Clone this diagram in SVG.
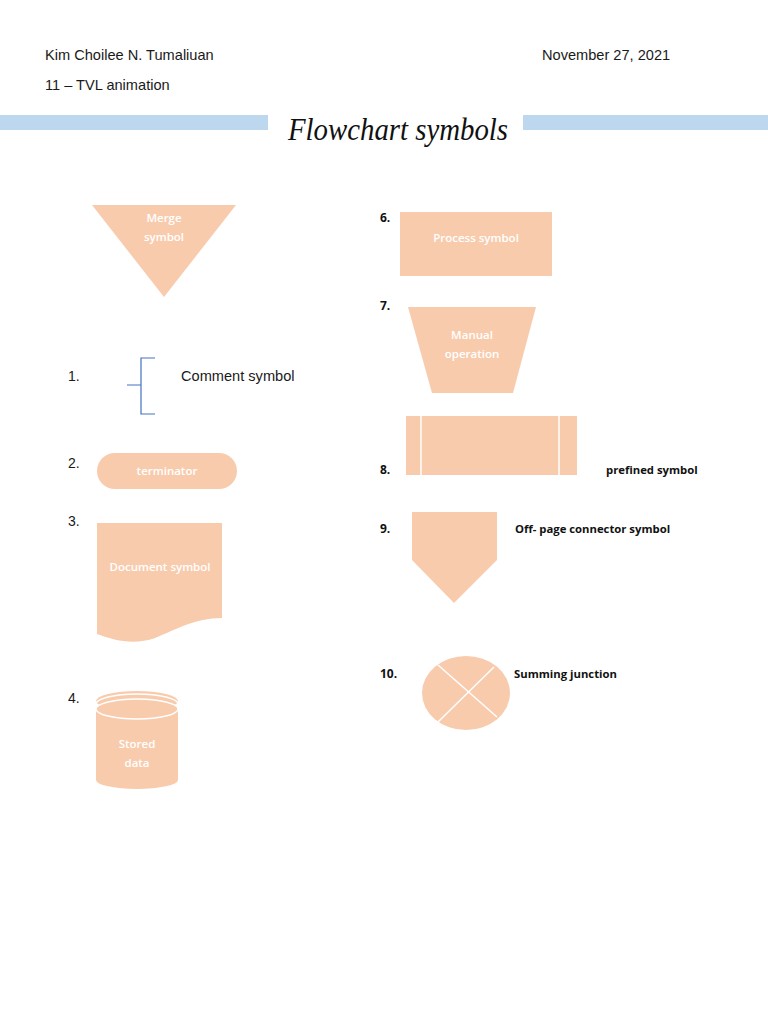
<svg xmlns="http://www.w3.org/2000/svg" width="768" height="1024" viewBox="0 0 768 1024">
<style>
.hdr{font-family:"Liberation Sans",Arial,sans-serif;font-size:14.6px;fill:#1a1a1a}
.num{font-family:"Liberation Sans",Arial,sans-serif;font-size:14px;fill:#1a1a1a}
.bnum{font-family:"Open Sans","Liberation Sans",sans-serif;font-size:12px;font-weight:bold;fill:#111}
.lbl{font-family:"Open Sans","Liberation Sans",sans-serif;font-size:11.3px;font-weight:bold;fill:#111}
.inb{font-family:"Open Sans","Liberation Sans",sans-serif;font-size:11.5px;font-weight:600;fill:#fff;text-anchor:middle}
.shape{fill:#F8CBAD}
.wl{stroke:#fff;stroke-width:1.5;fill:none}
</style>
<rect width="768" height="1024" fill="#fff"/>
<g id="header">
<text class="hdr" x="45" y="60">Kim Choilee N. Tumaliuan</text>
<text class="hdr" x="542" y="60">November 27, 2021</text>
<text class="hdr" x="45" y="90">11 – TVL animation</text>
<rect x="0" y="115" width="268" height="15" fill="#BDD7EE"/>
<rect x="523" y="115" width="245" height="15" fill="#BDD7EE"/>
<text x="288" y="140" textLength="220" lengthAdjust="spacingAndGlyphs" font-family="'Liberation Serif',serif" font-style="italic" font-size="32" fill="#111">Flowchart symbols</text>
</g>
<g id="merge">
<polygon class="shape" points="92,205 236,205 164,297"/>
<text class="inb" x="164" y="222">Merge</text>
<text class="inb" x="164" y="241">symbol</text>
</g>
<g id="comment">
<text class="num" x="68" y="381">1.</text>
<path d="M155,358 H141 V414 H155 M127,385 H141" fill="none" stroke="#4472C4" stroke-width="1.2"/>
<text class="hdr" x="181" y="381">Comment symbol</text>
</g>
<g id="terminator">
<text class="num" x="68" y="468">2.</text>
<rect class="shape" x="97" y="453" width="140" height="36" rx="18"/>
<text class="inb" x="167" y="475">terminator</text>
</g>
<g id="document">
<text class="num" x="68" y="526">3.</text>
<path class="shape" d="M97,523 H222 V618 C195,618 175,630 155,638 C135,645 115,641 97,634 Z"/>
<text class="inb" x="160" y="571">Document symbol</text>
</g>
<g id="stored">
<text class="num" x="68" y="703">4.</text>
<ellipse class="shape" cx="137" cy="701" rx="41" ry="10"/>
<rect class="shape" x="96" y="708" width="82" height="72"/>
<ellipse class="shape" cx="137" cy="780" rx="41" ry="9"/>
<path class="wl" d="M96,704 A41,10 0 0 1 178,704"/>
<ellipse cx="137" cy="709" rx="41" ry="10" fill="#F8CBAD" stroke="#fff" stroke-width="1.5"/>
<text class="inb" x="137" y="748">Stored</text>
<text class="inb" x="137" y="767">data</text>
</g>
<g id="process">
<text class="bnum" x="380" y="222">6.</text>
<rect class="shape" x="400" y="212" width="152" height="64"/>
<text class="inb" x="476" y="242">Process symbol</text>
</g>
<g id="manual">
<text class="bnum" x="380" y="310">7.</text>
<polygon class="shape" points="408,307 536,307 513,393 432,393"/>
<text class="inb" x="472" y="339">Manual</text>
<text class="inb" x="472" y="358">operation</text>
</g>
<g id="predefined">
<text class="bnum" x="380" y="474">8.</text>
<rect class="shape" x="406" y="416" width="171" height="59"/>
<line class="wl" x1="421" y1="416" x2="421" y2="475"/>
<line class="wl" x1="559" y1="416" x2="559" y2="475"/>
<text class="lbl" x="606" y="474">prefined symbol</text>
</g>
<g id="offpage">
<text class="bnum" x="380" y="533">9.</text>
<polygon class="shape" points="412,512 497,512 497,560 454,603 412,560"/>
<text class="lbl" x="515" y="533">Off- page connector symbol</text>
</g>
<g id="summing">
<text class="bnum" x="380" y="678">10.</text>
<ellipse class="shape" cx="466" cy="693" rx="44" ry="37"/>
<line class="wl" x1="438" y1="665" x2="497" y2="717"/>
<line class="wl" x1="494" y1="667" x2="438" y2="722"/>
<text class="lbl" x="514" y="678">Summing junction</text>
</g>
<g id="connectors"></g>
</svg>
